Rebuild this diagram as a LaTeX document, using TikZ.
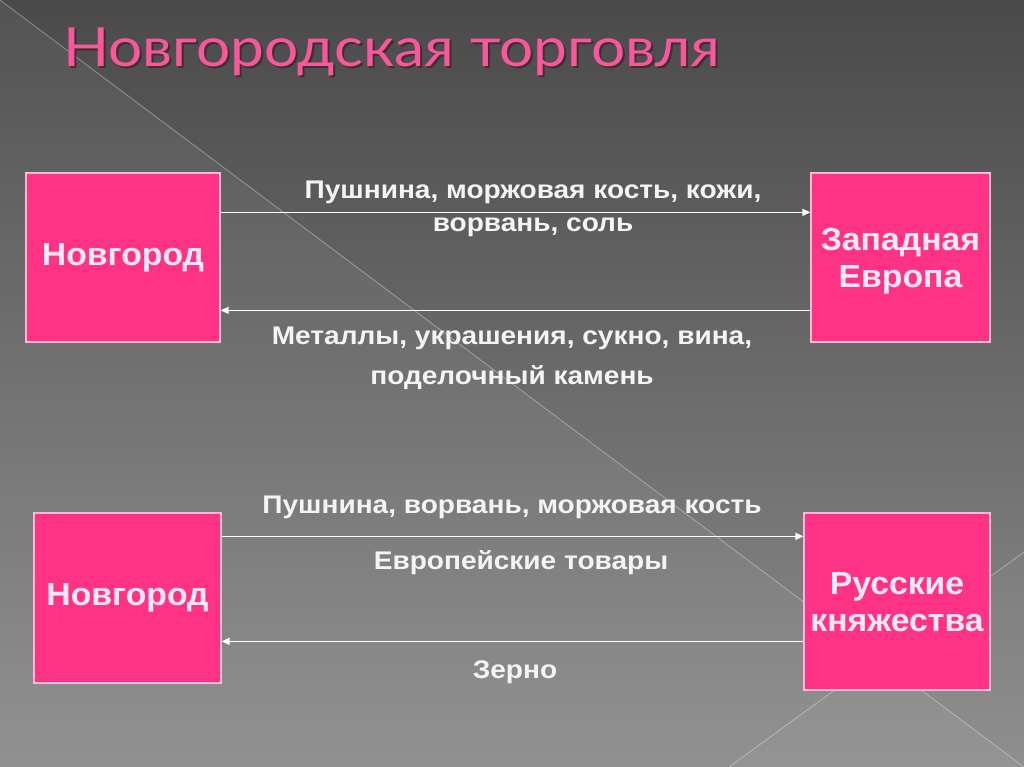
\documentclass[tikz,border=0pt]{standalone}
\usepackage{fontspec}
\usepackage{graphicx}
\setmainfont{Liberation Sans}
\newfontfamily\titlefont{Lato}
\usetikzlibrary{arrows.meta,calc}
\definecolor{bgtop}{HTML}{4A4A4A}
\definecolor{bgbot}{HTML}{8C8C8C}
\definecolor{boxfill}{HTML}{FF3385}
\definecolor{boxline}{HTML}{FFB8D6}
\definecolor{boxtext}{HTML}{FDE8F3}
\definecolor{titlepink}{HTML}{F9579C}
\definecolor{titleshadow}{HTML}{3A2630}
\definecolor{labeltext}{HTML}{F4F4F4}
\newcommand{\gwide}[1]{\scalebox{1.1}[1]{#1}}
\newcommand{\bwide}[1]{\scalebox{1.055}[1]{#1}}
\newcommand{\twide}[1]{\scalebox{1.12}[1]{#1}}
\newcommand{\twolines}[2]{\raisebox{-4pt}[\height][\depth]{\begin{tabular}{@{}c@{}}\bwide{#1}\\\bwide{#2}\end{tabular}}}
\begin{document}
\begin{tikzpicture}[x=1pt,y=-1pt,
  tradebox/.style={draw=boxline, line width=1.3pt, fill=boxfill, text=boxtext,
    font=\bfseries\fontsize{32}{37.5}\selectfont, align=center, inner sep=0pt},
  goods/.style={text=labeltext, font=\bfseries\fontsize{25.5}{30}\selectfont, anchor=base, inner sep=0pt},
  flow/.style={draw=white, line width=1.3pt, -{Triangle[length=8pt,width=7pt]}},
  bgline/.style={draw=white, opacity=0.35, line width=0.8pt}]
% background
\useasboundingbox (0,0) rectangle (1024,767);
\shade[top color=bgtop, bottom color=bgbot] (0,0) rectangle (1024,767);
\fill[white, opacity=0.05] (0,0) -- (1024,767) -- (0,767) -- cycle;
\fill[white, opacity=0.03] (729,767) -- (1024,552) -- (1024,767) -- cycle;
\draw[bgline] (0,0) -- (1024,767);
\draw[bgline] (729,767) -- (1024,552);
% title
\node[anchor=base west, inner sep=0pt, text=titleshadow, opacity=0.8] at (65,68.5)
  {\titlefont\fontsize{54}{60}\selectfont\twide{Новгородская торговля}};
\node[anchor=base west, inner sep=0pt, text=titlepink] (title) at (63,66.5)
  {\titlefont\fontsize{54}{60}\selectfont\twide{Новгородская торговля}};
% boxes
\node[tradebox, minimum width=194pt, minimum height=169pt] (nov1) at (123,257.5) {\bwide{Новгород}};
\node[tradebox, minimum width=179pt, minimum height=169pt] (zap) at (900.5,257.5) {\twolines{Западная}{Европа}};
\node[tradebox, minimum width=187pt, minimum height=170pt] (nov2) at (127.5,598) {\bwide{Новгород}};
\node[tradebox, minimum width=186pt, minimum height=177pt] (rus) at (897,601.5) {\twolines{Русские}{княжества}};
% connectors
\draw[flow] ([yshift=-40pt]nov1.north east) -- ([yshift=-40pt]zap.north west);
\draw[flow] ([yshift=-138pt]zap.north west) -- ([yshift=-138pt]nov1.north east);
\draw[flow] ([yshift=-24pt]nov2.north east) -- ([yshift=-24pt]rus.north west);
\draw[flow] ([yshift=-129pt]rus.north west) -- ([yshift=-129pt]nov2.north east);
% goods labels
\node[goods] (g1) at (533,199) {\gwide{Пушнина, моржовая кость, кожи,}};
\node[goods] (g2) at (533,232) {\gwide{ворвань, соль}};
\node[goods] (g3) at (512,344) {\gwide{Металлы, украшения, сукно, вина,}};
\node[goods] (g4) at (512,384) {\gwide{поделочный камень}};
\node[goods] (g5) at (512,513) {\gwide{Пушнина, ворвань, моржовая кость}};
\node[goods] (g6) at (521,569) {\gwide{Европейские товары}};
\node[goods] (g7) at (515,678) {\gwide{Зерно}};
\end{tikzpicture}
\end{document}
